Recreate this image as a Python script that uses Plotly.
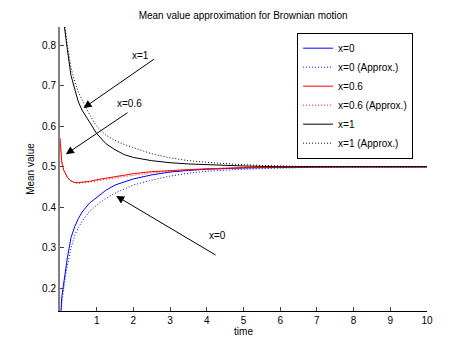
import plotly.graph_objects as go

t = [0, 0.02, 0.05, 0.1, 0.15, 0.2, 0.3, 0.4, 0.5, 0.6, 0.8, 1.0, 1.25, 1.5, 1.75,
     2.0, 2.5, 3.0, 3.5, 4.0, 5.0, 6.0, 7.0, 8.0, 9.0, 10.0]

x0_exact = [0.0, 0.135, 0.18, 0.215, 0.25, 0.275, 0.325, 0.352, 0.372, 0.388, 0.41, 0.425, 0.442,
            0.455, 0.463, 0.47, 0.48, 0.487, 0.491, 0.494, 0.497, 0.499, 0.5, 0.5, 0.5, 0.5]
x0_approx = [0.0, 0.12, 0.165, 0.2, 0.23, 0.255, 0.3, 0.33, 0.35, 0.365, 0.39, 0.405, 0.422,
             0.435, 0.446, 0.455, 0.467, 0.477, 0.484, 0.489, 0.494, 0.497, 0.499, 0.5, 0.5, 0.5]
x06_exact = [0.57, 0.54, 0.51, 0.492, 0.482, 0.474, 0.465, 0.461, 0.461, 0.462, 0.464, 0.468, 0.472,
             0.476, 0.48, 0.483, 0.488, 0.491, 0.493, 0.495, 0.498, 0.499, 0.5, 0.5, 0.5, 0.5]
x06_approx = [0.57, 0.54, 0.512, 0.494, 0.482, 0.473, 0.464, 0.46, 0.459, 0.46, 0.462, 0.465, 0.469,
              0.473, 0.476, 0.479, 0.485, 0.489, 0.492, 0.494, 0.497, 0.499, 0.5, 0.5, 0.5, 0.5]
x1_exact = [1.0, 0.95, 0.9, 0.86, 0.82, 0.79, 0.725, 0.69, 0.66, 0.64, 0.61, 0.582, 0.557,
            0.542, 0.53, 0.523, 0.515, 0.51, 0.507, 0.505, 0.502, 0.5, 0.5, 0.5, 0.5, 0.5]
x1_approx = [1.0, 0.95, 0.91, 0.87, 0.83, 0.8, 0.745, 0.71, 0.685, 0.665, 0.63, 0.6, 0.578,
             0.565, 0.555, 0.547, 0.532, 0.522, 0.515, 0.511, 0.505, 0.502, 0.5, 0.5, 0.5, 0.5]

series_names = ["x=0", "x=0 (Approx.)", "x=0.6", "x=0.6 (Approx.)", "x=1", "x=1 (Approx.)"]
series_vals = [x0_exact, x0_approx, x06_exact, x06_approx, x1_exact, x1_approx]
series_colors = ["#0000ff", "#0000ff", "#ff0000", "#ff0000", "#000000", "#000000"]
series_dash = ["solid", "1px,2px", "solid", "1px,2px", "solid", "1px,2px"]

x_ticks = [1, 2, 3, 4, 5, 6, 7, 8, 9, 10]
y_ticks = [0.2, 0.3, 0.4, 0.5, 0.6, 0.7, 0.8]

# annotations: (label, text_x, text_y, tail_x, tail_y, head_x, head_y)
arrows = [
    ("x=1", 2.2, 0.775, 2.6, 0.768, 0.64, 0.645),
    ("x=0.6", 1.9, 0.657, 1.88, 0.636, 0.16, 0.531),
    ("x=0", 4.3, 0.33, 4.28, 0.28, 1.53, 0.428),
]

fig = go.Figure()
for name, vals, col, dash in zip(series_names, series_vals, series_colors, series_dash):
    fig.add_trace(go.Scatter(x=t, y=vals, mode="lines", name=name,
                             line=dict(color=col, width=1, dash=dash)))

font = "Liberation Sans, Arial, sans-serif"
for label, tx, ty, ax_, ay_, hx, hy in arrows:
    fig.add_annotation(x=hx, y=hy, ax=ax_, ay=ay_, xref="x", yref="y", axref="x", ayref="y",
                       text="", showarrow=True, arrowhead=2, arrowsize=1.6, arrowwidth=1,
                       arrowcolor="black")
    fig.add_annotation(x=tx, y=ty, xref="x", yref="y", text=label, showarrow=False,
                       font=dict(size=10, color="black", family=font))

fig.update_layout(
    width=474, height=349,
    margin=dict(l=60, r=47, t=27, b=38),
    paper_bgcolor="white", plot_bgcolor="white",
    font=dict(family=font, size=10, color="black"),
    title=dict(text="Mean value approximation for Brownian motion", x=0.513, xanchor="center",
               y=0.955, yanchor="middle", font=dict(size=10, family=font)),
    legend=dict(x=0.646, y=0.98, xanchor="left", yanchor="top", bgcolor="white",
                bordercolor="black", borderwidth=1, font=dict(size=10, family=font),
                tracegroupgap=0),
    showlegend=True,
)
fig.update_xaxes(range=[0, 10], tickvals=x_ticks, ticks="inside", ticklen=4,
                 showline=True, linecolor="black", linewidth=1, showgrid=False, zeroline=False,
                 title=dict(text="time", standoff=2, font=dict(size=10)), tickfont=dict(size=10))
fig.update_yaxes(range=[0.144, 0.845], tickvals=y_ticks, ticks="inside", ticklen=4,
                 showline=True, linecolor="#808080", linewidth=2, showgrid=False, zeroline=False,
                 title=dict(text="Mean value", standoff=6, font=dict(size=10)), tickfont=dict(size=10))

fig.write_html("out.html")
